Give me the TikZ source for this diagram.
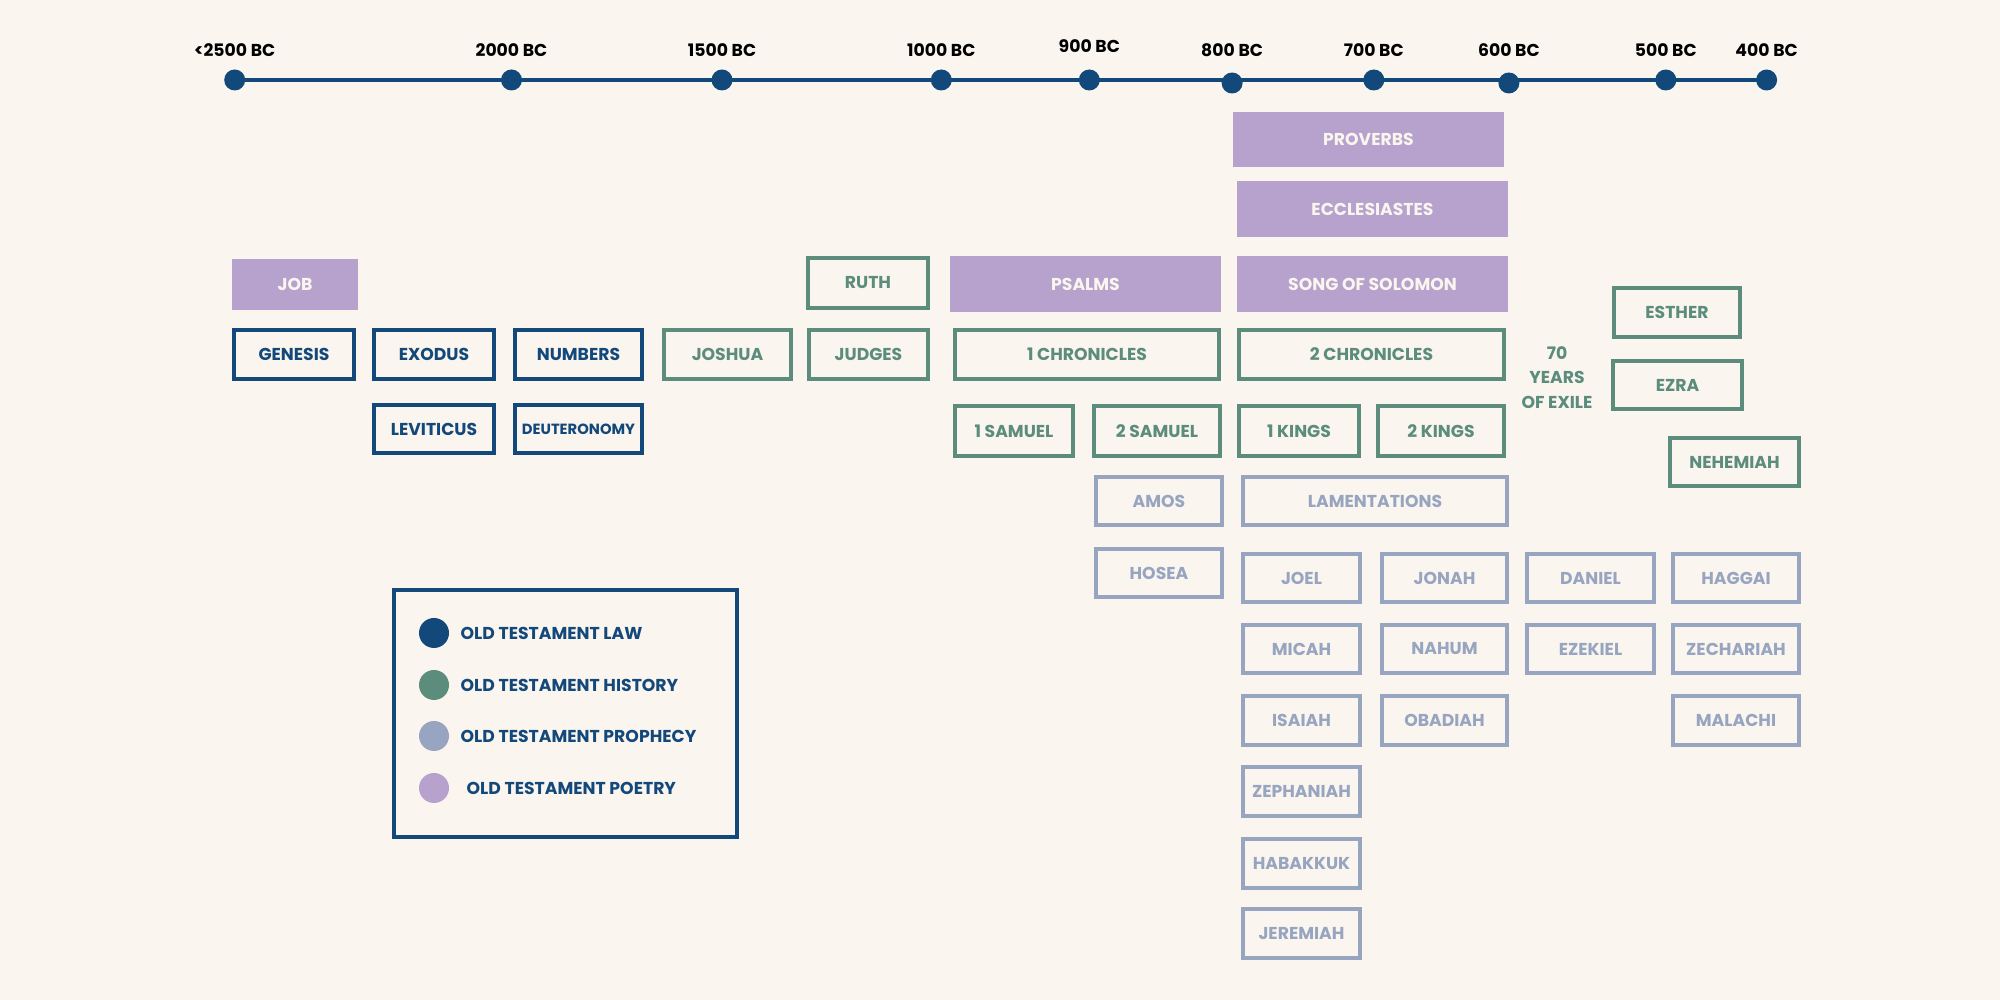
\documentclass[tikz,border=0pt]{standalone}
\usepackage{fontspec}
\setmainfont{Poppins}
\definecolor{paper}{RGB}{250,245,239}
\definecolor{lawblue}{RGB}{19,72,122}
\definecolor{histgreen}{RGB}{91,140,124}
\definecolor{prophgrey}{RGB}{152,165,192}
\definecolor{poetpurple}{RGB}{183,162,205}
\newcommand{\bookfont}{\bfseries\fontsize{4.9}{7}\selectfont}
\tikzset{
  book/.style={rectangle, minimum height=0.485cm, inner sep=0pt, font=\bookfont, line width=1.25pt},
  law/.style={book, draw=lawblue, text=lawblue},
  history/.style={book, draw=histgreen, text=histgreen},
  prophecy/.style={book, draw=prophgrey, text=prophgrey},
  poetry/.style={book, fill=poetpurple, text=paper, minimum height=0.56cm},
  yearlabel/.style={font=\bookfont, text=black},
  tick/.style={circle, fill=lawblue, minimum size=0.21cm, inner sep=0pt},
  axis/.style={draw=lawblue, line width=1.1pt},
  legendtext/.style={anchor=west, font=\bookfont, text=lawblue, inner sep=0pt},
}
\begin{document}
\begin{tikzpicture}[x=1cm,y=-1cm]
\useasboundingbox (0,0) rectangle (20,10);
\fill[paper] (0,0) rectangle (20,10);

% timeline
\coordinate (tstart) at (2.347,0.80);
\coordinate (tend) at (17.666,0.80);
\draw[axis] (tstart) -- (tend);
\foreach \n/\x/\dy/\ly/\yr in {1/2.347/0.80/0.50/{<2500 BC}, 2/5.115/0.80/0.50/{2000 BC},
    3/7.22/0.80/0.50/{1500 BC}, 4/9.413/0.80/0.50/{1000 BC}, 5/10.893/0.80/0.46/{900 BC},
    6/12.321/0.83/0.50/{800 BC}, 7/13.738/0.80/0.50/{700 BC}, 8/15.089/0.83/0.50/{600 BC},
    9/16.658/0.80/0.50/{500 BC}, 10/17.666/0.80/0.50/{400 BC}}{
  \node[tick] (dot\n) at (\x,\dy) {};
  \node[yearlabel] (year\n) at (\x,\ly) {\yr};
}

% poetry
\node[poetry, minimum width=1.26cm, minimum height=0.51cm] (job) at (2.95,2.845) {JOB};
\node[poetry, minimum width=2.71cm] (psalms) at (10.855,2.84) {PSALMS};
\node[poetry, minimum width=2.71cm, minimum height=0.55cm] (proverbs) at (13.685,1.395) {PROVERBS};
\node[poetry, minimum width=2.71cm] (ecclesiastes) at (13.725,2.09) {ECCLESIASTES};
\node[poetry, minimum width=2.71cm] (song) at (13.725,2.84) {SONG OF SOLOMON};

% law
\node[law, minimum width=1.20cm] (genesis) at (2.94,3.545) {GENESIS};
\node[law, minimum width=1.20cm] (exodus) at (4.34,3.545) {EXODUS};
\node[law, minimum width=1.27cm] (numbers) at (5.785,3.545) {NUMBERS};
\node[law, minimum width=1.20cm] (leviticus) at (4.34,4.29) {LEVITICUS};
\node[law, minimum width=1.27cm, font=\bfseries\fontsize{4.2}{5}\selectfont] (deuteronomy) at (5.785,4.29) {DEUTERONOMY};

% history
\node[history, minimum width=1.27cm] (joshua) at (7.275,3.545) {JOSHUA};
\node[history, minimum width=1.19cm] (judges) at (8.685,3.545) {JUDGES};
\node[history, minimum width=1.20cm, minimum height=0.50cm] (ruth) at (8.68,2.83) {RUTH};
\node[history, minimum width=2.64cm] (chron1) at (10.87,3.545) {1 CHRONICLES};
\node[history, minimum width=2.65cm] (chron2) at (13.715,3.545) {2 CHRONICLES};
\node[history, minimum width=1.18cm, minimum height=0.50cm] (samuel1) at (10.14,4.31) {1 SAMUEL};
\node[history, minimum width=1.26cm, minimum height=0.50cm] (samuel2) at (11.57,4.31) {2 SAMUEL};
\node[history, minimum width=1.20cm, minimum height=0.50cm] (kings1) at (12.99,4.31) {1 KINGS};
\node[history, minimum width=1.26cm, minimum height=0.50cm] (kings2) at (14.41,4.31) {2 KINGS};
\node[history, minimum width=1.26cm] (esther) at (16.77,3.125) {ESTHER};
\node[history, minimum width=1.29cm] (ezra) at (16.775,3.85) {EZRA};
\node[history, minimum width=1.29cm] (nehemiah) at (17.345,4.62) {NEHEMIAH};
\node[font=\bookfont, text=histgreen, align=center, inner sep=0pt] (exile) at (15.57,3.775) {70\\YEARS\\OF EXILE};

% prophecy
\node[prophecy, minimum width=1.26cm] (amos) at (11.59,5.01) {AMOS};
\node[prophecy, minimum width=2.64cm] (lamentations) at (13.75,5.01) {LAMENTATIONS};
\node[prophecy, minimum width=1.26cm] (hosea) at (11.59,5.73) {HOSEA};
\node[prophecy, minimum width=1.17cm] (joel) at (13.015,5.78) {JOEL};
\node[prophecy, minimum width=1.25cm] (jonah) at (14.445,5.78) {JONAH};
\node[prophecy, minimum width=1.27cm] (daniel) at (15.905,5.78) {DANIEL};
\node[prophecy, minimum width=1.26cm] (haggai) at (17.36,5.78) {HAGGAI};
\node[prophecy, minimum width=1.17cm] (micah) at (13.015,6.49) {MICAH};
\node[prophecy, minimum width=1.25cm] (nahum) at (14.445,6.49) {NAHUM};
\node[prophecy, minimum width=1.27cm] (ezekiel) at (15.905,6.49) {EZEKIEL};
\node[prophecy, minimum width=1.26cm] (zechariah) at (17.36,6.49) {ZECHARIAH};
\node[prophecy, minimum width=1.17cm] (isaiah) at (13.015,7.205) {ISAIAH};
\node[prophecy, minimum width=1.25cm] (obadiah) at (14.445,7.205) {OBADIAH};
\node[prophecy, minimum width=1.26cm] (malachi) at (17.36,7.205) {MALACHI};
\node[prophecy, minimum width=1.17cm] (zephaniah) at (13.015,7.915) {ZEPHANIAH};
\node[prophecy, minimum width=1.17cm] (habakkuk) at (13.015,8.635) {HABAKKUK};
\node[prophecy, minimum width=1.17cm] (jeremiah) at (13.015,9.335) {JEREMIAH};

% legend
\node[draw=lawblue, line width=1.25pt, minimum width=3.43cm, minimum height=2.47cm] (legend) at (5.655,7.135) {};
\foreach \n/\y/\col/\tx/\kind in {1/6.33/lawblue/4.60/LAW, 2/6.85/histgreen/4.60/HISTORY,
    3/7.36/prophgrey/4.60/PROPHECY, 4/7.88/poetpurple/4.66/POETRY}{
  \node[circle, fill=\col, minimum size=0.30cm, inner sep=0pt] (key\n) at (4.34,\y) {};
  \node[legendtext] (keytext\n) at (\tx,\y) {OLD TESTAMENT \kind};
}
\end{tikzpicture}
\end{document}
